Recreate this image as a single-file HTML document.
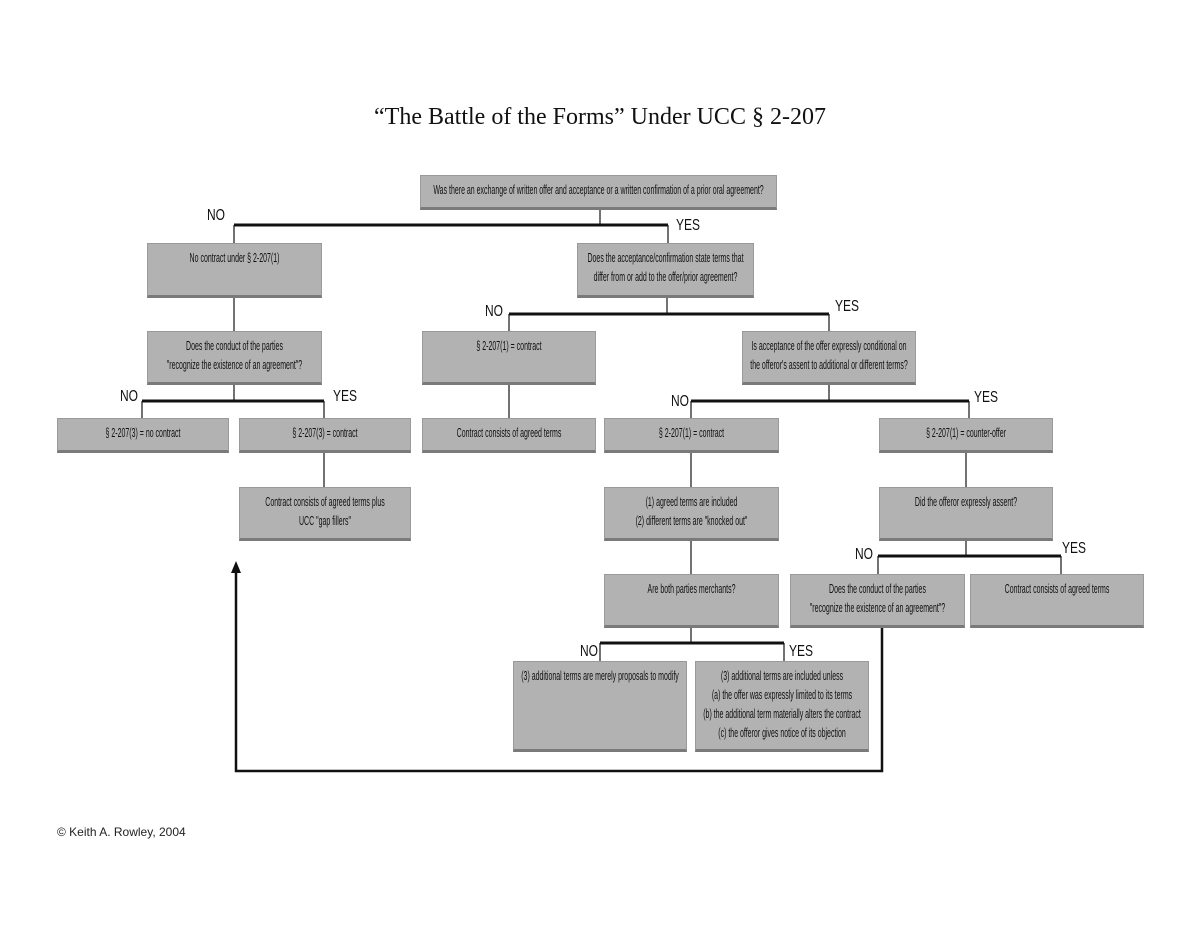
<!DOCTYPE html>
<html><head><meta charset="utf-8"><style>
body{margin:0;width:1200px;height:927px;background:#fff;position:relative;overflow:hidden;font-family:"Liberation Sans",sans-serif}
.t{position:absolute;top:104px;left:0;width:1200px;text-align:center;font-family:"Liberation Serif",serif;font-size:24px;color:#111}
.b{position:absolute;background:#b2b2b2;border:1px solid #9a9a9a;border-bottom:3px solid #7a7a7a;box-sizing:border-box;overflow:hidden}
.b div{position:absolute;left:50%;width:300%;margin-left:-150%;transform:scaleX(.56);text-align:center;font-size:12.5px;line-height:19px;color:#111;top:5px}
.l{position:absolute;font-size:16px;color:#111;transform:scaleX(.75);transform-origin:left}
svg{position:absolute;left:0;top:0}
.f{position:absolute;left:57px;top:825px;font-size:12px;color:#222}
</style></head><body>
<div class="t">“The Battle of the Forms” Under UCC § 2-207</div>
<svg width="1200" height="927">
<g stroke="#444" stroke-width="1.5" fill="none">
<path d="M600 209V225M234 225V243M668 225V243M234 297V331M234 384V401M142 401V418M324 401V418M324 452V487M667 297V314M509 314V331M829 314V331M509 384V418M829 384V401M691 401V418M969 401V418M691 452V487M691 540V574M966 452V487M966 540V556M691 627V643M600 643V661M784 643V661M878 556V574M1061 556V574"/>
</g>
<g stroke="#111" stroke-width="3" fill="none">
<path d="M234 225H668M142 401H324M509 314H829M691 401H969M600 643H784M878 556H1061"/>
<path d="M882 627V771H236V572" stroke-width="2.5"/>
</g>
<path d="M236 561L231 573H241Z" fill="#111"/>
</svg>
<div class="b" style="left:420px;top:175px;width:357px;height:35px"><div>Was there an exchange of written offer and acceptance or a written confirmation of a prior oral agreement?</div></div>
<div class="b" style="left:147px;top:243px;width:175px;height:55px"><div>No contract under § 2-207(1)</div></div>
<div class="b" style="left:577px;top:243px;width:177px;height:55px"><div>Does the acceptance/confirmation state terms that<br>differ from or add to the offer/prior agreement?</div></div>
<div class="b" style="left:147px;top:331px;width:175px;height:54px"><div>Does the conduct of the parties<br>"recognize the existence of an agreement"?</div></div>
<div class="b" style="left:422px;top:331px;width:174px;height:54px"><div>§ 2-207(1) = contract</div></div>
<div class="b" style="left:742px;top:331px;width:174px;height:54px"><div>Is acceptance of the offer expressly conditional on<br>the offeror's assent to additional or different terms?</div></div>
<div class="b" style="left:57px;top:418px;width:172px;height:35px"><div>§ 2-207(3) = no contract</div></div>
<div class="b" style="left:239px;top:418px;width:172px;height:35px"><div>§ 2-207(3) = contract</div></div>
<div class="b" style="left:422px;top:418px;width:174px;height:35px"><div>Contract consists of agreed terms</div></div>
<div class="b" style="left:604px;top:418px;width:175px;height:35px"><div>§ 2-207(1) = contract</div></div>
<div class="b" style="left:879px;top:418px;width:174px;height:35px"><div>§ 2-207(1) = counter-offer</div></div>
<div class="b" style="left:239px;top:487px;width:172px;height:54px"><div>Contract consists of agreed terms plus<br>UCC "gap fillers"</div></div>
<div class="b" style="left:604px;top:487px;width:175px;height:54px"><div>(1) agreed terms are included<br>(2) different terms are "knocked out"</div></div>
<div class="b" style="left:879px;top:487px;width:174px;height:54px"><div>Did the offeror expressly assent?</div></div>
<div class="b" style="left:604px;top:574px;width:175px;height:54px"><div>Are both parties merchants?</div></div>
<div class="b" style="left:790px;top:574px;width:175px;height:54px"><div>Does the conduct of the parties<br>"recognize the existence of an agreement"?</div></div>
<div class="b" style="left:970px;top:574px;width:174px;height:54px"><div>Contract consists of agreed terms</div></div>
<div class="b" style="left:513px;top:661px;width:174px;height:91px"><div>(3) additional terms are merely proposals to modify</div></div>
<div class="b" style="left:695px;top:661px;width:174px;height:91px"><div>(3) additional terms are included unless<br>(a) the offer was expressly limited to its terms<br>(b) the additional term materially alters the contract<br>(c) the offeror gives notice of its objection</div></div>
<div class="l" style="left:207px;top:207px">NO</div>
<div class="l" style="left:676px;top:217px">YES</div>
<div class="l" style="left:485px;top:303px">NO</div>
<div class="l" style="left:835px;top:298px">YES</div>
<div class="l" style="left:120px;top:388px">NO</div>
<div class="l" style="left:333px;top:388px">YES</div>
<div class="l" style="left:671px;top:393px">NO</div>
<div class="l" style="left:974px;top:389px">YES</div>
<div class="l" style="left:855px;top:546px">NO</div>
<div class="l" style="left:1062px;top:540px">YES</div>
<div class="l" style="left:580px;top:643px">NO</div>
<div class="l" style="left:789px;top:643px">YES</div>
<div class="f">© Keith A. Rowley, 2004</div>
</body></html>
